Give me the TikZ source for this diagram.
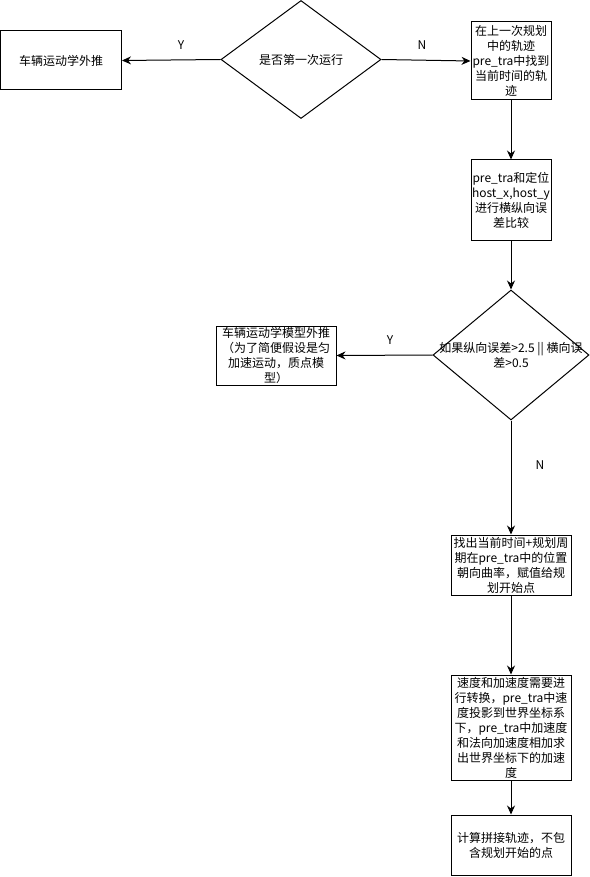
\documentclass[tikz,border=0pt]{standalone}
\usepackage{fontspec}
\setmainfont{Noto Sans CJK SC}
\usetikzlibrary{shapes.geometric,arrows.meta}

\begin{document}
\begin{tikzpicture}[x=1pt,y=-1pt,
  box/.style={draw,line width=1pt,align=center,inner sep=1pt,font=\fontsize{12}{15}\selectfont},
  decision/.style={draw,diamond,line width=1pt,inner sep=0pt},
  arr/.style={-{Stealth[length=9pt,width=8pt]},line width=1pt},
  lab/.style={font=\fontsize{12}{15}\selectfont}]
\useasboundingbox (0,0) rectangle (589,877);

\node[box,minimum width=121pt,minimum height=59pt] (b1) at (61,60.5) {车辆运动学外推};
\node[decision,minimum width=160pt,minimum height=118pt,label={[lab]center:是否第一次运行}] (d1) at (301,59.5) {};
\node[box,minimum width=80pt,minimum height=78pt] (b2) at (511,61) {在上一次规划\\中的轨迹\\pre\_tra中找到\\当前时间的轨\\迹};
\node[box,minimum width=80pt,minimum height=80pt] (b3) at (511,200) {pre\_tra和定位\\host\_x,host\_y\\进行横纵向误\\差比较};
\node[decision,minimum width=156pt,minimum height=130pt,label={[lab,align=center]center:如果纵向误差>2.5 || 横向误\\差>0.5}] (d2) at (511,355) {};
\node[box,minimum width=120pt,minimum height=59pt] (b4) at (276,355.5) {车辆运动学模型外推\\（为了简便假设是匀\\加速运动，质点模\\型）};
\node[box,minimum width=120pt,minimum height=60pt] (b5) at (511,565) {找出当前时间+规划周\\期在pre\_tra中的位置\\朝向曲率，赋值给规\\划开始点};
\node[box,minimum width=120pt,minimum height=105pt] (b6) at (511,727.5) {速度和加速度需要进\\行转换，pre\_tra中速\\度投影到世界坐标系\\下，pre\_tra中加速度\\和法向加速度相加求\\出世界坐标下的加速\\度};
\node[box,minimum width=120pt,minimum height=60pt] (b7) at (511,845) {计算拼接轨迹，不包\\含规划开始的点};

\draw[arr] (d1.west) -- (b1.east);
\draw[arr] (d1.east) -- (b2.west);
\draw[arr] (b2) -- (b3);
\draw[arr] (b3) -- (d2.north);
\draw[arr] (d2.west) -- (b4.east);
\draw[arr] (d2.south) -- (b5.north);
\draw[arr] (b5) -- (b6);
\draw[arr] (b6) -- (b7);

\node[lab] (y1) at (181,45) {Y};
\node[lab] (n1) at (422,45) {N};
\node[lab] (y2) at (390,340) {Y};
\node[lab] (n2) at (540,465) {N};
\end{tikzpicture}
\end{document}
